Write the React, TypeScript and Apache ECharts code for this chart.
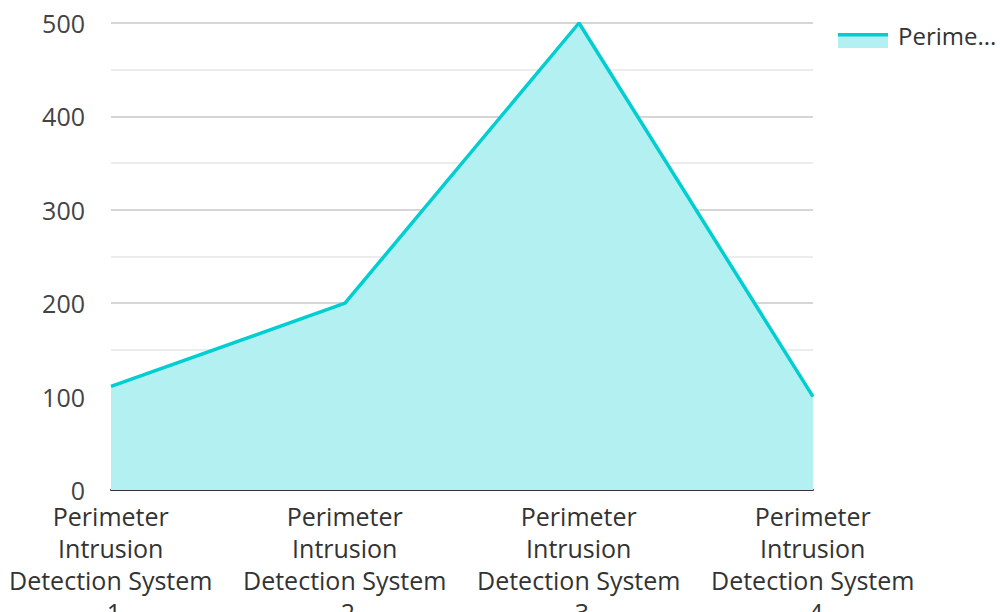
import React, { useEffect, useRef } from "react";
import * as echarts from "echarts";

const categories = [
  "Perimeter Intrusion Detection System 1",
  "Perimeter Intrusion Detection System 2",
  "Perimeter Intrusion Detection System 3",
  "Perimeter Intrusion Detection System 4",
];
const values = [111, 200, 500, 100];
const seriesName = "Perimeter Intrusion Detection System";

export default function App() {
  const ref = useRef<HTMLDivElement>(null);
  useEffect(() => {
    if (!ref.current) return;
    const chart = echarts.init(ref.current, null, { renderer: "svg" });
    const font = "'Open Sans', sans-serif";
    chart.setOption({
      animation: false,
      textStyle: { fontFamily: font },
      grid: {
        left: 111,
        right: 187,
        top: 23,
        bottom: 122,
        containLabel: false,
        outerBoundsMode: "none",
      },
      legend: {
        left: 838,
        top: 23,
        padding: 0,
        itemWidth: 50,
        itemHeight: 15,
        itemGap: 10,
        icon: "rect",
        itemStyle: { color: "rgba(0,0,0,0)", opacity: 0 },
        textStyle: {
          fontFamily: font,
          fontSize: 24,
          color: "#333",
          width: 104,
          overflow: "truncate",
          ellipsis: "...",
          padding: [0, 0, 0, 5],
        },
        data: [seriesName],
      },
      graphic: [
        {
          type: "rect",
          left: 838,
          top: 33,
          shape: { width: 50, height: 15 },
          style: { fill: "#b2f0f1" },
          z: 99,
        },
        {
          type: "rect",
          left: 838,
          top: 33,
          shape: { width: 50, height: 3.5 },
          style: { fill: "#00CED1" },
          z: 100,
        },
      ],
      xAxis: {
        type: "category",
        data: categories,
        boundaryGap: false,
        axisLine: { show: true, lineStyle: { color: "#333", width: 2 } },
        axisTick: { show: false },
        axisLabel: {
          interval: 0,
          fontFamily: font,
          fontSize: 25,
          lineHeight: 32,
          color: "#333",
          width: 212,
          overflow: "break",
          margin: 10,
          padding: [0, 0, 0, 6],
        },
      },
      yAxis: {
        type: "value",
        min: 0,
        max: 500,
        interval: 100,
        axisLine: { show: false },
        axisTick: { show: false },
        axisLabel: { fontFamily: font, fontSize: 25, color: "#444", margin: 26 },
        splitLine: { show: true, lineStyle: { color: "#c8c8c8", width: 1.5 } },
        minorTick: { show: false, splitNumber: 2 },
        minorSplitLine: { show: true, lineStyle: { color: "#e6e6e6", width: 1.5 } },
      },
      series: [
        {
          name: seriesName,
          type: "line",
          data: values,
          symbol: "none",
          lineStyle: { color: "#00CED1", width: 3.5 },
          itemStyle: { color: "#00CED1" },
          areaStyle: { color: "#b2f0f1", opacity: 1 },
        },
      ],
    });
    return () => chart.dispose();
  }, []);
  return <div ref={ref} style={{ width: 1000, height: 612, position: "absolute", left: 0, top: 0 }} />;
}
